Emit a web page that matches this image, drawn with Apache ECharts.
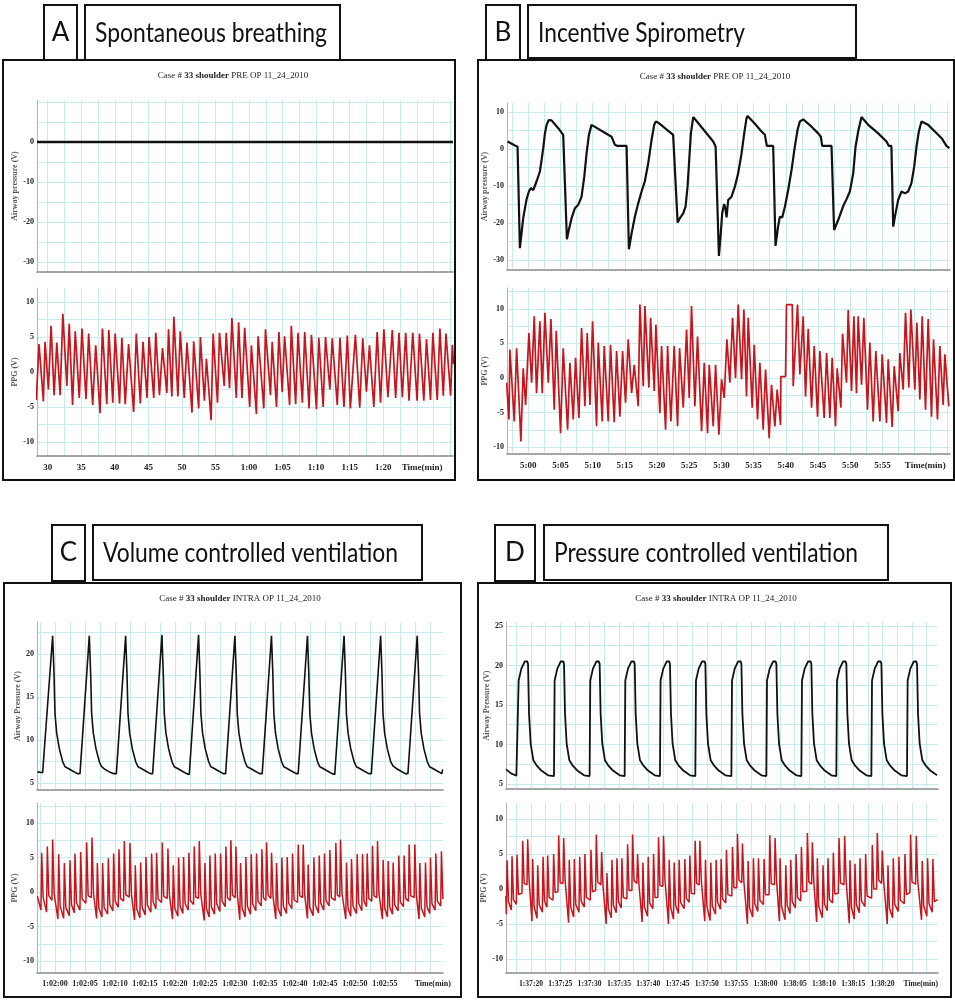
<!DOCTYPE html>
<html><head><meta charset="utf-8">
<script src="https://cdn.jsdelivr.net/npm/echarts@6/dist/echarts.min.js"></script>
<style>html,body{margin:0;padding:0;background:#fff}#c{width:955px;height:1000px}</style>
</head><body><div id="c"></div>
<script>
// ---------------- DATA ----------------
// Panel A: spontaneous breathing (time in s)
const airA = [[28.4,0],[90.4,0]];
const ppgA = [[28.3,-4.0],[28.7,4.0],[29.35,-4.2],[29.6,4.3],[30.1,-2.5],[30.5,6.6],[30.95,-3.3],[31.35,4.2],[31.85,-3.3],[32.25,8.3],
[32.85,-2.0],[33.2,6.9],[33.7,-4.7],[34.1,5.8],[34.7,-3.7],[35.1,6.2],[35.7,-3.9],[36.1,5.5],[36.7,-4.7],[37.15,3.8],
[37.8,-5.9],[38.15,6.2],[38.8,-4.6],[39.1,6.0],[39.7,-4.4],[40.05,5.5],[40.7,-4.5],[41.05,4.9],[41.55,-4.6],[42.05,4.0],
[42.8,-5.7],[43.2,5.5],[43.8,-4.5],[44.2,4.3],[44.8,-3.7],[45.1,5.0],[45.8,-3.7],[46.1,5.6],[46.65,-3.3],[47.1,3.4],
[47.75,-3.0],[48.0,6.1],[48.5,-3.5],[48.8,7.9],[49.4,-3.5],[49.75,5.8],[50.35,-3.7],[50.75,4.2],[51.5,-5.8],[51.75,4.4],
[52.5,-5.2],[52.75,5.0],[53.35,-4.1],[53.65,1.9],[54.35,-6.9],[54.65,5.5],[55.3,-4.4],[55.6,5.6],[56.3,-2.0],[56.6,5.6],
[57.1,-2.3],[57.45,7.7],[58.1,-3.7],[58.45,7.1],[58.95,-3.7],[59.35,6.3],[60.1,-5.0],[60.35,3.8],[61.1,-6.0],[61.35,5.1],
[62.2,-5.2],[62.45,6.1],[63.2,-3.3],[63.45,4.3],[64.1,-5.0],[64.45,5.7],[64.95,-2.9],[65.3,5.1],[66.05,-4.7],[66.3,6.6],
[66.95,-4.6],[67.3,5.6],[67.95,-4.4],[68.3,5.7],[68.95,-5.2],[69.3,5.3],[70.05,-5.3],[70.4,4.9],[71.05,-5.0],[71.4,5.0],
[72.05,-2.5],[72.4,4.8],[73.15,-4.7],[73.55,4.9],[74.15,-5.0],[74.65,5.2],[75.1,-5.2],[75.85,5.3],[76.5,-5.1],[76.95,4.8],
[77.5,-2.8],[77.95,3.8],[78.6,-5.0],[79.1,5.7],[79.6,-4.4],[80.1,6.1],[80.7,-3.6],[81.35,6.0],[81.85,-3.7],[82.35,5.6],
[82.85,-3.6],[83.35,5.6],[83.85,-4.1],[84.4,5.6],[85.05,-4.1],[85.4,5.5],[86.05,-4.1],[86.45,4.7],[87.05,-4.0],[87.4,5.6],
[88.05,-4.0],[88.45,6.2],[88.95,-3.4],[89.35,5.5],[90.05,-3.4],[90.3,3.9],[90.5,1.1]];

// Panel B: incentive spirometry (time in s)
const airB = [[296.8,2.0],[297.93,0.9],[298.19,0.6],[298.34,0.6],[298.7,-26.8],[299.22,-18.7],[299.74,-13.6],[300.1,-11.5],[300.41,-10.6],[300.78,-11.1],[301.29,-8.8],[301.81,-6.1],[302.07,-3.0],[302.33,0.2],[302.59,4.2],[302.85,6.5],[303.2,7.8],[303.62,7.7],[304.66,5.6],[305.43,3.8],[305.59,3.8],
[306.0,-24.4],[306.3,-21.9],[306.73,-18.7],[307.25,-16.0],[307.76,-15.1],[308.28,-12.9],[308.7,-7.5],[309.06,-1.2],[309.42,3.8],[309.83,6.5],[310.1,6.9],[312.94,3.3],[313.46,1.1],[313.87,0.8],[315.27,0.8],
[315.63,-27.1],[316.05,-22.8],[316.56,-18.3],[317.08,-14.7],[317.6,-11.5],[318.1,-8.8],[318.63,-3.9],[319.15,2.4],[319.56,6.5],[319.82,7.4],[320.19,7.1],[322.5,3.8],[322.77,3.8],
[323.2,-19.9],[323.55,-18.7],[324.07,-17.4],[324.43,-15.6],[324.74,-10.2],[325.0,-3.0],[325.26,4.2],[325.62,8.6],[328.73,2.0],[329.1,0.6],
[329.61,-28.9],[329.9,-22.8],[330.12,-17.4],[330.43,-14.9],[330.64,-16.3],[330.8,-18.5],[331.05,-13.8],[331.57,-12.9],[332.09,-10.2],[332.6,-6.6],[333.13,-1.2],[333.54,4.2],[333.9,8.3],[334.06,8.9],[335.2,6.8],[336.23,4.7],[336.75,3.8],[337.06,0.8],[338.04,0.8],
[338.4,-26.2],[338.8,-21.0],[339.08,-18.3],[339.44,-18.5],[339.86,-15.6],[340.37,-11.1],[340.89,-5.7],[341.4,0.6],[341.82,5.1],[342.18,7.4],[342.7,8.0],[344.0,6.0],[345.03,4.2],[345.44,3.3],[345.65,0.8],[347.1,0.8],
[347.5,-21.9],[348.14,-19.2],[348.9,-15.5],[349.4,-13.7],[349.95,-11.5],[350.47,-6.6],[350.83,0.6],[351.24,4.7],[351.76,8.6],[352.8,6.5],[354.35,4.2],[355.64,2.0],[356.0,0.8],[356.4,0.8],
[356.68,-21.0],[357.04,-17.4],[357.45,-13.8],[357.97,-11.5],[358.5,-12.0],[359.0,-11.5],[359.5,-9.3],[359.94,-4.8],[360.3,0.6],[360.66,4.7],[361.07,7.4],[362.1,6.5],[363.15,4.7],[364.2,2.9],[364.95,0.8],[365.4,0.2]];
const ppgB = [[296.64,-0.7],[297.0,-6.0],[297.15,4.1],[297.83,-6.3],[298.19,4.3],[298.86,-9.2],[299.22,1.4],[299.59,-3.9],[300.1,6.5],[300.52,-0.7],
[300.93,8.9],[301.29,-2.2],[301.81,8.2],[302.17,-2.2],[302.59,9.4],[303.11,-0.7],[303.52,8.5],[304.04,-4.6],[304.35,6.8],[305.02,-8.0],
[305.43,4.3],[306.11,-7.5],[306.47,2.2],[306.99,-6.0],[307.35,2.9],[307.87,-5.8],[308.28,7.2],[308.8,-4.1],[309.16,6.5],[309.58,-3.9],
[309.99,8.2],[310.61,-7.0],[310.87,5.1],[311.49,-6.3],[311.8,4.6],[312.42,-6.3],[312.78,4.8],[313.35,-6.4],[313.72,3.9],[314.23,-5.6],
[314.65,3.9],[315.11,-3.6],[315.53,5.6],[316.05,-2.2],[316.46,1.9],[317.08,-4.1],[317.34,10.6],[317.86,-1.2],[318.12,10.4],[318.74,-1.4],
[319.0,8.7],[319.57,-1.9],[319.82,7.7],[320.44,-5.1],[320.7,4.6],[321.33,-7.5],[321.64,4.6],[322.15,-6.3],[322.67,4.6],[323.19,-7.0],
[323.5,4.3],[324.07,-4.3],[324.59,7.0],[325.0,-2.9],[325.36,10.4],[325.88,-4.1],[326.29,6.0],[326.92,-7.7],[327.33,2.2],[327.85,-8.0],
[328.11,1.9],[328.73,-7.0],[329.09,1.9],[329.61,-8.2],[330.02,-0.2],[330.43,-2.9],[330.85,5.6],[331.31,-0.7],[331.73,8.7],[332.19,0.0],
[332.61,10.6],[333.13,-0.2],[333.49,9.9],[333.9,-2.7],[334.16,8.7],[334.78,-4.3],[335.09,4.8],[335.61,-6.0],[335.97,2.2],[336.49,-7.5],
[336.85,1.2],[337.42,-8.7],[337.78,-1.0],[338.3,-7.0],[338.66,-1.7],[339.18,-6.8],[339.23,0.2],[339.96,0.2],[340.11,10.6],[341.0,10.6],
[341.15,-1.2],[341.82,10.6],[342.18,0.5],[342.7,8.9],[343.06,-2.7],[343.48,7.1],[344.0,-4.3],[344.41,4.6],[344.93,-5.6],[345.29,3.9],
[345.96,-5.8],[346.33,3.6],[346.84,-5.8],[347.2,2.9],[347.72,-7.0],[347.98,1.4],[348.55,-4.3],[348.81,6.4],[349.43,-0.7],[349.69,9.8],
[350.21,-1.9],[350.57,8.9],[350.98,-2.2],[351.24,8.9],[351.76,-1.0],[352.12,8.7],[352.69,-4.6],[353.05,5.1],[353.57,-6.3],[353.98,3.9],
[354.61,-6.3],[354.97,3.4],[355.64,-6.5],[355.9,2.7],[356.52,-7.1],[356.83,1.7],[357.45,-4.8],[357.71,3.6],[358.23,-1.7],[358.59,9.4],
[359.11,-1.4],[359.42,9.9],[360.04,-1.7],[360.35,8.0],[360.82,-3.1],[361.18,8.9],[361.7,-4.6],[362.11,8.5],[362.63,-5.6],[362.94,5.6],
[363.56,-6.0],[363.92,4.6],[364.44,-3.9],[364.7,3.4],[365.32,-4.1]];

// Panel C: volume controlled ventilation (time in s after 1:02:00)
const C_T0 = 3720;
const airC = [[-2.94,6.3],[-2.06,6.2],
[-1.94,6.2],[-0.39,22.1],[-0.17,17.8],[0.0,13.1],[0.28,10.8],[0.72,9.0],[1.28,7.5],[1.67,6.9],[2.22,6.7],[2.94,6.4],[3.72,6.1],
[4.17,6.1],[5.72,22.1],[5.94,17.8],[6.11,13.1],[6.39,10.8],[6.83,9.0],[7.39,7.5],[7.78,6.9],[8.33,6.6],[9.05,6.3],[9.83,6.1],
[10.23,6.1],[11.78,22.1],[12.0,17.8],[12.17,13.1],[12.45,10.8],[12.89,9.0],[13.45,7.5],[13.84,6.9],[14.39,6.7],[15.11,6.4],[15.89,6.1],
[16.28,6.1],[17.83,22.2],[18.05,17.8],[18.22,13.1],[18.5,10.8],[18.94,9.0],[19.5,7.5],[19.89,6.9],[20.44,6.7],[21.16,6.4],[21.94,6.1],
[22.39,6.0],[23.94,22.2],[24.16,17.8],[24.33,13.1],[24.61,10.8],[25.05,9.0],[25.61,7.5],[26.0,6.9],[26.55,6.7],[27.27,6.4],[28.05,6.1],
[28.45,6.1],[30.0,22.1],[30.22,17.8],[30.39,13.1],[30.67,10.8],[31.11,9.0],[31.67,7.5],[32.06,6.9],[32.61,6.7],[33.33,6.4],[34.11,6.1],
[34.55,6.1],[36.1,22.1],[36.32,17.8],[36.49,13.1],[36.77,10.8],[37.21,9.0],[37.77,7.5],[38.16,6.9],[38.71,6.7],[39.43,6.4],[40.21,6.1],
[40.55,6.1],[42.1,22.1],[42.32,17.8],[42.49,13.1],[42.77,10.8],[43.21,9.0],[43.77,7.5],[44.16,6.9],[44.71,6.7],[45.43,6.4],[46.21,6.1],
[46.65,6.0],[48.2,22.1],[48.42,17.8],[48.59,13.1],[48.87,10.8],[49.31,9.0],[49.87,7.5],[50.26,6.9],[50.81,6.7],[51.53,6.4],[52.31,6.1],
[52.75,6.1],[54.3,22.1],[54.52,17.8],[54.69,13.1],[54.97,10.8],[55.41,9.0],[55.97,7.5],[56.36,7.0],[56.91,6.7],[57.63,6.4],[58.41,6.1],
[58.85,6.1],[60.4,22.1],[60.62,17.8],[60.79,13.1],[61.07,10.8],[61.51,9.0],[62.07,7.5],[62.46,6.9],[63.01,6.7],[63.73,6.4],[64.51,6.1],
[64.65,6.6]];
const ppgC = [[-2.94,-0.6],
[-2.34,-2.6],[-2.22,5.7],[-1.97,-0.8],[-1.40,-2.9],[-1.28,6.6],[-1.03,-0.5],[-0.51,-1.2],[-0.39,7.6],[-0.14,-0.2],
[0.49,-3.9],[0.61,5.5],[0.86,-2.0],[1.44,-3.8],[1.56,4.2],[1.81,-2.2],[2.38,-3.4],[2.50,4.6],[2.75,-1.8],
[3.21,-3.0],[3.33,5.6],[3.58,-1.5],[4.16,-2.6],[4.28,5.8],[4.53,-1.0],[5.16,-1.6],[5.28,7.2],[5.53,-0.5],
[6.05,-0.8],[6.17,7.9],[6.42,-0.2],[6.94,-3.8],[7.06,4.2],[7.31,-2.3],[7.82,-3.6],[7.94,4.2],[8.19,-2.2],
[8.77,-3.2],[8.89,4.9],[9.14,-1.8],[9.66,-2.7],[9.78,5.6],[10.03,-1.3],[10.55,-2.2],[10.67,6.2],[10.92,-0.9],
[11.44,-1.3],[11.56,7.4],[11.81,-0.4],[12.38,-0.7],[12.50,7.1],[12.75,-0.3],[13.27,-4.0],[13.39,3.9],[13.64,-2.4],
[14.16,-3.7],[14.28,4.3],[14.53,-2.2],[15.05,-3.3],[15.17,5.1],[15.42,-1.9],[15.99,-2.9],[16.11,5.6],[16.36,-1.4],
[16.82,-2.4],[16.94,5.7],[17.19,-1.0],[17.77,-1.5],[17.89,7.2],[18.14,-0.6],[18.71,-0.9],[18.83,6.3],[19.08,-0.4],
[19.60,-3.9],[19.72,3.9],[19.97,-2.3],[20.49,-3.5],[20.61,5.0],[20.86,-2.0],[21.32,-3.1],[21.44,5.1],[21.69,-1.6],
[22.21,-2.6],[22.33,5.7],[22.58,-1.2],[23.10,-1.8],[23.22,6.6],[23.47,-0.7],[23.94,-0.9],[24.06,7.4],[24.31,-0.3],
[24.88,-4.1],[25.00,4.2],[25.25,-2.4],[25.71,-3.6],[25.83,5.3],[26.08,-2.1],[26.60,-3.2],[26.72,5.6],[26.97,-1.7],
[27.49,-2.8],[27.61,5.6],[27.86,-1.3],[28.38,-2.1],[28.50,6.6],[28.75,-0.8],[29.21,-1.2],[29.33,7.5],[29.58,-0.4],
[30.05,-0.8],[30.17,6.6],[30.42,-0.5],[30.82,-4.0],[30.94,4.2],[31.19,-2.3],[31.71,-3.6],[31.83,5.1],[32.08,-2.0],
[32.60,-3.2],[32.72,5.5],[32.97,-1.7],[33.49,-2.7],[33.61,5.6],[33.86,-1.3],[34.38,-2.0],[34.50,6.2],[34.75,-0.8],
[35.16,-1.2],[35.28,7.2],[35.53,-0.4],[35.99,-0.9],[36.11,5.7],[36.36,-0.6],[36.82,-3.9],[36.94,4.2],[37.19,-2.3],
[37.71,-3.5],[37.83,5.0],[38.08,-2.0],[38.60,-3.1],[38.72,5.1],[38.97,-1.6],[39.49,-2.4],[39.61,5.6],[39.86,-1.1],
[40.44,-1.5],[40.56,6.9],[40.81,-0.5],[41.27,-0.8],[41.39,6.9],[41.64,-0.4],[42.10,-3.8],[42.22,4.0],[42.47,-2.2],
[43.05,-3.4],[43.17,5.0],[43.42,-1.9],[43.94,-3.0],[44.06,5.3],[44.31,-1.6],[44.82,-2.6],[44.94,5.6],[45.19,-1.2],
[45.71,-2.0],[45.83,6.1],[46.08,-0.8],[46.71,-1.2],[46.83,7.1],[47.08,-0.4],[47.49,-0.7],[47.61,7.6],[47.86,-0.2],
[48.49,-3.9],[48.61,4.3],[48.86,-2.3],[49.32,-3.5],[49.44,4.8],[49.69,-2.0],[50.27,-3.1],[50.39,5.5],[50.64,-1.6],
[51.16,-2.7],[51.28,5.5],[51.53,-1.3],[51.94,-2.1],[52.06,5.6],[52.31,-0.9],[52.82,-1.3],[52.94,6.7],[53.19,-0.5],
[53.66,-0.8],[53.78,7.4],[54.03,-0.3],[54.60,-3.9],[54.72,4.7],[54.97,-2.3],[55.44,-3.6],[55.56,4.5],[55.81,-2.1],
[56.27,-3.2],[56.39,4.3],[56.64,-1.8],[57.21,-2.7],[57.33,5.3],[57.58,-1.4],[58.10,-2.1],[58.22,5.3],[58.47,-0.9],
[58.94,-1.3],[59.06,6.9],[59.31,-0.5],[59.88,-0.8],[60.00,6.9],[60.25,-0.4],[60.71,-3.9],[60.83,4.2],[61.08,-2.3],
[61.66,-3.6],[61.78,4.3],[62.03,-2.1],[62.49,-3.1],[62.61,5.0],[62.86,-1.7],[63.38,-2.6],[63.50,5.6],[63.75,-1.3],
[64.32,-2.0],[64.44,5.9],[64.69,-1.0]];

// Panel D: pressure controlled ventilation (time in s after 1:37:20)
const D_T0 = 5840;
const airD = [[-4.26,6.85],[-3.41,6.35],[-2.5,6.05],
[-2.22,6.0],[-2.11,18.1],[-1.65,19.6],[-1.08,20.5],[-0.63,20.5],[-0.51,20.2],[-0.34,13.9],[-0.06,10.1],[0.40,8.0],[0.91,7.4],[1.76,6.7],[2.90,6.1],
[3.92,6.0],[4.03,18.1],[4.49,19.6],[5.06,20.5],[5.51,20.5],[5.63,20.2],[5.80,13.9],[6.08,10.1],[6.54,8.0],[7.05,7.4],[7.90,6.7],[9.04,6.1],
[10.0,6.0],[10.11,18.1],[10.57,19.6],[11.14,20.5],[11.59,20.5],[11.71,20.2],[11.88,13.9],[12.16,10.1],[12.62,8.0],[13.13,7.4],[13.98,6.7],[15.12,6.1],
[15.98,6.0],[16.09,18.1],[16.55,19.6],[17.12,20.5],[17.57,20.5],[17.69,20.2],[17.86,13.9],[18.14,10.1],[18.60,8.0],[19.11,7.4],[19.96,6.7],[21.10,6.1],
[22.0,6.0],[22.11,18.1],[22.57,19.6],[23.14,20.5],[23.59,20.5],[23.71,20.2],[23.88,13.9],[24.16,10.1],[24.62,8.0],[25.13,7.4],[25.98,6.7],[27.12,6.1],
[28.04,6.0],[28.15,18.1],[28.61,19.6],[29.18,20.5],[29.63,20.5],[29.75,20.2],[29.92,13.9],[30.20,10.1],[30.66,8.0],[31.17,7.4],[32.02,6.7],[33.16,6.1],
[34.19,6.0],[34.30,18.1],[34.76,19.6],[35.33,20.5],[35.78,20.5],[35.90,20.2],[36.07,13.9],[36.35,10.1],[36.81,8.0],[37.32,7.4],[38.17,6.7],[39.31,6.1],
[40.16,6.0],[40.27,18.1],[40.73,19.6],[41.30,20.5],[41.75,20.5],[41.87,20.2],[42.04,13.9],[42.32,10.1],[42.78,8.0],[43.29,7.4],[44.14,6.7],[45.28,6.1],
[46.13,6.0],[46.24,18.1],[46.70,19.6],[47.27,20.5],[47.72,20.5],[47.84,20.2],[48.01,13.9],[48.29,10.1],[48.75,8.0],[49.26,7.4],[50.11,6.7],[51.25,6.1],
[52.10,6.0],[52.21,18.1],[52.67,19.6],[53.24,20.5],[53.69,20.5],[53.81,20.2],[53.98,13.9],[54.26,10.1],[54.72,8.0],[55.23,7.4],[56.08,6.7],[57.22,6.1],
[58.08,6.0],[58.19,18.1],[58.65,19.6],[59.22,20.5],[59.67,20.5],[59.79,20.2],[59.96,13.9],[60.24,10.1],[60.70,8.0],[61.21,7.4],[62.06,6.7],[63.20,6.1],
[64.16,6.0],[64.27,18.1],[64.73,19.6],[65.30,20.5],[65.75,20.5],[65.87,20.2],[66.04,13.9],[66.32,10.1],[66.78,8.0],[67.29,7.4],[68.14,6.7],[69.28,6.1]];
const ppgD = [[-4.30,-1.0],
[-4.21,-3.6],[-4.09,4.1],[-3.84,-1.8],[-3.36,-3.0],[-3.24,4.7],[-2.99,-1.5],[-2.51,-2.2],[-2.39,4.9],[-2.14,-0.8],
[-1.54,-0.6],[-1.42,6.9],[-1.17,0.8],[-0.69,0.6],[-0.57,7.1],[-0.32,1.2],[0.16,-4.6],[0.28,4.3],[0.53,-2.5],
[1.02,-4.2],[1.14,3.4],[1.39,-2.2],[1.93,-3.3],[2.05,4.6],[2.30,-1.7],[2.72,-2.6],[2.84,4.8],[3.09,-1.2],
[3.74,-1.6],[3.86,5.0],[4.11,-0.5],[4.60,-0.4],[4.72,7.7],[4.97,0.9],[5.45,0.8],[5.57,7.3],[5.82,1.2],
[6.41,-4.8],[6.53,4.2],[6.78,-2.6],[7.27,-4.0],[7.39,4.3],[7.64,-2.2],[8.18,-3.3],[8.30,4.6],[8.55,-1.7],
[9.08,-2.6],[9.20,5.0],[9.45,-1.2],[10.11,-1.6],[10.23,5.6],[10.48,-0.4],[11.02,-0.2],[11.14,7.8],[11.39,1.0],
[11.93,0.6],[12.05,5.3],[12.30,0.3],[12.83,-5.0],[12.95,2.3],[13.20,-2.8],[13.69,-4.1],[13.81,4.2],[14.06,-2.3],
[14.54,-3.4],[14.66,4.4],[14.91,-1.8],[15.39,-2.7],[15.51,4.4],[15.76,-1.2],[16.36,-1.4],[16.48,6.4],[16.73,-0.2],
[17.21,-0.2],[17.33,7.8],[17.58,1.2],[18.06,0.8],[18.18,5.0],[18.43,0.5],[18.97,-4.7],[19.09,3.8],[19.34,-2.5],
[19.88,-3.9],[20.00,4.6],[20.25,-2.0],[20.79,-2.8],[20.91,5.0],[21.16,-1.2],[21.64,-1.2],[21.76,7.4],[22.01,0.5],
[22.49,0.4],[22.61,7.6],[22.86,1.3],[23.46,-5.0],[23.58,4.2],[23.83,-2.6],[24.31,-4.3],[24.43,3.8],[24.68,-2.3],
[25.16,-3.5],[25.28,4.2],[25.53,-1.9],[26.13,-2.8],[26.25,4.3],[26.50,-1.3],[26.98,-1.9],[27.10,4.8],[27.35,-0.6],
[27.89,-0.7],[28.01,6.9],[28.26,0.8],[28.69,0.6],[28.81,6.9],[29.06,1.2],[29.65,-4.6],[29.77,4.2],[30.02,-2.5],
[30.56,-4.5],[30.68,3.8],[30.93,-2.4],[31.47,-3.6],[31.59,4.2],[31.84,-1.9],[32.32,-2.9],[32.44,4.3],[32.69,-1.4],
[33.23,-2.0],[33.35,5.6],[33.60,-0.8],[34.26,-1.0],[34.38,6.0],[34.63,0.2],[35.11,0.2],[35.23,7.9],[35.48,1.3],
[35.96,0.9],[36.08,6.5],[36.33,1.0],[36.93,-5.0],[37.05,4.0],[37.30,-2.7],[37.83,-4.0],[37.95,4.4],[38.20,-2.1],
[38.69,-3.2],[38.81,4.4],[39.06,-1.6],[39.65,-2.2],[39.77,4.3],[40.02,-0.8],[40.62,-0.8],[40.74,7.7],[40.99,0.8],
[41.53,0.6],[41.65,7.3],[41.90,1.2],[42.38,-4.6],[42.50,4.4],[42.75,-2.5],[43.35,-4.4],[43.47,3.4],[43.72,-2.3],
[44.20,-3.5],[44.32,4.2],[44.57,-1.8],[45.11,-2.7],[45.23,5.0],[45.48,-1.2],[46.02,-1.7],[46.14,6.0],[46.39,-0.4],
[47.04,-0.3],[47.16,8.0],[47.41,1.0],[47.89,0.7],[48.01,6.7],[48.26,1.1],[48.74,-4.7],[48.86,4.4],[49.11,-2.5],
[49.71,-4.1],[49.83,3.4],[50.08,-2.1],[50.56,-3.1],[50.68,4.4],[50.93,-1.5],[51.47,-2.0],[51.59,5.2],[51.84,-0.7],
[52.44,-0.6],[52.56,7.3],[52.81,0.9],[53.40,0.6],[53.52,7.6],[53.77,1.2],[54.31,-4.9],[54.43,4.1],[54.68,-2.6],
[55.16,-4.3],[55.28,3.6],[55.53,-2.2],[56.02,-3.4],[56.14,4.4],[56.39,-1.7],[56.98,-2.5],[57.10,5.0],[57.35,-1.0],
[58.12,-1.3],[58.24,6.3],[58.49,0.0],[58.97,0.0],[59.09,8.0],[59.34,1.3],[59.82,0.8],[59.94,5.5],[60.19,1.0],
[60.79,-5.0],[60.91,3.4],[61.16,-2.7],[61.70,-4.1],[61.82,4.4],[62.07,-2.2],[62.66,-3.2],[62.78,4.6],[63.03,-1.6],
[63.69,-2.1],[63.81,5.0],[64.06,-0.8],[64.65,-0.5],[64.77,7.8],[65.02,1.0],[65.62,0.7],[65.74,7.6],[65.99,1.2],
[66.64,-4.4],[66.76,4.0],[67.01,-2.4],[67.55,-3.9],[67.67,4.4],[67.92,-2.1],[68.46,-3.3],[68.58,4.3],[68.83,-1.8],
[69.40,-1.5]];

// Tick label values
const ticksA_x = [30,35,40,45,50,55,60,65,70,75,80];
const ticksB_x = [300,305,310,315,320,325,330,335,340,345,350,355];
const ticksC_x = [3720,3725,3730,3735,3740,3745,3750,3755,3760,3765,3770,3775];
const ticksD_x = [5840,5845,5850,5855,5860,5865,5870,5875,5880,5885,5890,5895,5900];
const timeLabelPos = {A:85.8, B:361.65, C:3783, D:5906.5};
const ticksPressAB = [-30,-20,-10,0,10];
const ticksPPG = [-10,-5,0,5,10];
const ticksPressCD = [5,10,15,20,25];

// ---------------- CHART ----------------
const SERIF = '"Liberation Serif","Times New Roman",serif';
const GRIDC = '#c8eced';
function steps(a,b,s){const r=[];for(let v=a;v<=b+1e-9;v+=s)r.push(+v.toFixed(3));return r;}
function pad(n){return (n<10?'0':'')+n;}
function fmtMS(v){const m=Math.floor(v/60),s=Math.round(v-m*60);return m+':'+pad(s);}
function fmtHMS(v){const h=Math.floor(v/3600),m=Math.floor((v-h*3600)/60),s=Math.round(v-h*3600-m*60);return h+':'+pad(m)+':'+pad(s);}

const grids = [
 {left:37, top:100, width:416, height:172},
 {left:37, top:288, width:416, height:168},
 {left:507, top:103, width:443, height:167},
 {left:507, top:288, width:443, height:166},
 {left:37, top:622, width:406, height:168},
 {left:37, top:803, width:406, height:170},
 {left:506, top:622, width:432, height:167},
 {left:506, top:803, width:432, height:170}
].map(g=>Object.assign({outerBoundsMode:'none', containLabel:false}, g));

function mkX(i,min,max,split,labels,fmt,fs){
  return {type:'value', gridIndex:i, min, max,
    axisLine:{show:true,onZero:false,lineStyle:{color:'#8a8a8a',width:1.6}},
    axisTick:{show:false,customValues:split},
    splitLine:{show:true,lineStyle:{color:GRIDC,width:1}},
    axisLabel: labels ? {show:true,customValues:labels,formatter:fmt,fontFamily:SERIF,fontWeight:'bold',fontSize:fs||9,color:'#222',margin:7}
                      : {show:false}};
}
function mkY(i,min,max,split,labels,name){
  return {type:'value', gridIndex:i, min, max, name, nameLocation:'middle', nameGap:6, nameRotate:90,
    nameTextStyle:{fontFamily:SERIF,fontWeight:'bold',fontSize:8,color:'#555'},
    axisLine:{show:true,onZero:false,lineStyle:{color:'#b5b5b5',width:1}},
    axisTick:{show:false,customValues:split},
    splitLine:{show:true,lineStyle:{color:GRIDC,width:1}},
    axisLabel:{customValues:labels,fontFamily:SERIF,fontWeight:'bold',fontSize:8,color:'#222',margin:3}};
}
const fA = v => v===timeLabelPos.A ? 'Time(min)' : (v<60 ? String(v) : fmtMS(v));
const fB = v => v===timeLabelPos.B ? 'Time(min)' : fmtMS(v);
const fC = v => v===timeLabelPos.C ? 'Time(min)' : fmtHMS(v);
const fD = v => v===timeLabelPos.D ? 'Time(min)' : fmtHMS(v);

const xA=[28.4,90.4], xB=[296.7,365.5], xC=[3717.0,3784.7], xD=[5835.73,5909.45];
const xAxis = [
 mkX(0,xA[0],xA[1],steps(30,90,2.5),null),
 mkX(1,xA[0],xA[1],steps(30,90,2.5),ticksA_x.concat([timeLabelPos.A]),fA,9),
 mkX(2,xB[0],xB[1],steps(297.5,365,2.5),null),
 mkX(3,xB[0],xB[1],steps(297.5,365,2.5),ticksB_x.concat([timeLabelPos.B]),fB,9),
 mkX(4,xC[0],xC[1],steps(3717.5,3782.5,2.5),null),
 mkX(5,xC[0],xC[1],steps(3717.5,3782.5,2.5),ticksC_x.concat([timeLabelPos.C]),fC,8),
 mkX(6,xD[0],xD[1],steps(5837.5,5907.5,2.5),null),
 mkX(7,xD[0],xD[1],steps(5837.5,5907.5,2.5),ticksD_x.concat([timeLabelPos.D]),fD,7.6)
];
const yAxis = [
 mkY(0,-32.5,10.5,steps(-30,10,5),ticksPressAB.slice(0,4),'Airway pressure (V)'),
 mkY(1,-12,12,steps(-10,10,2.5),ticksPPG,'PPG (V)'),
 mkY(2,-32.7,12.4,steps(-30,10,5),ticksPressAB,'Airway pressure (V)'),
 mkY(3,-11,13,steps(-10,12.5,2.5),ticksPPG,'PPG (V)'),
 mkY(4,4.2,23.7,steps(5,22.5,2.5),ticksPressCD.slice(0,4),'Airway Pressure (V)'),
 mkY(5,-11.7,12.9,steps(-10,12.5,2.5),ticksPPG,'PPG (V)'),
 mkY(6,4.37,25.5,steps(5,25,2.5),ticksPressCD,'Airway Pressure (V)'),
 mkY(7,-12,12.3,steps(-10,10,2.5),ticksPPG,'PPG (V)')
];
const BLACK='#111', RED='#c8141b';
function ln(i,data,color,w){return {type:'line',xAxisIndex:i,yAxisIndex:i,data,showSymbol:false,symbol:'none',
  lineStyle:{color,width:w},itemStyle:{color},animation:false,silent:true,clip:true,z:3};}
const shiftT = (arr,t0) => arr.map(p=>[t0+p[0],p[1]]);
const series = [
 ln(0,airA,BLACK,2.4), ln(1,ppgA,RED,1.7),
 ln(2,airB,BLACK,2.2), ln(3,ppgB,RED,1.7),
 ln(4,shiftT(airC,C_T0),BLACK,1.6), ln(5,shiftT(ppgC,C_T0),RED,1.5),
 ln(6,shiftT(airD,D_T0),BLACK,1.8), ln(7,shiftT(ppgD,D_T0),RED,1.5)
];

// ---------- decorations (boxes, headings, titles) ----------
const mctx=document.createElement('canvas').getContext('2d');
function widthOf(t,font){mctx.font=font;return mctx.measureText(t).width;}
const HFONT='27px Lato';
function heading(text,x,y,target){
  const s=target/widthOf(text,HFONT);
  return {type:'text',x,y,scaleX:s,z:20,style:{text,font:HFONT,fill:'#111',align:'left',verticalAlign:'middle'}};
}
function letter(text,x,y){return {type:'text',x,y,z:20,style:{text,font:'26px Lato',fill:'#111',align:'center',verticalAlign:'middle'}};}
function box(x,y,w,h,fill){return {type:'rect',z:10,shape:{x,y,width:w,height:h},style:{fill:fill||'none',stroke:'#111',lineWidth:2}};}
function caseTitle(mid,x,y){
  return {type:'text',x,y,z:20,style:{text:'{n|Case # }{b|33 shoulder}{n| '+mid+' OP 11_24_2010}',align:'center',verticalAlign:'middle',
    rich:{n:{fontFamily:SERIF,fontSize:9,fill:'#222',color:'#222'},b:{fontFamily:SERIF,fontSize:9,fontWeight:'bold',fill:'#222',color:'#222'}}}};
}
const graphic = [
 box(3,60,452,420), box(478,60,476,420), box(4,583,457,414), box(478,583,473,414),
 box(44,5,33,55,'#fff'), box(85,5,255,55,'#fff'),
 box(486,5,34,55,'#fff'), box(528,5,328,53,'#fff'),
 box(52,525,33,56,'#fff'), box(93,525,329,55,'#fff'),
 box(495,525,40,56,'#fff'), box(544,525,344,55,'#fff'),
 letter('A',60.5,33), heading('Spontaneous breathing',95,33,232),
 letter('B',503,33), heading('Incentive Spirometry',538,33,207),
 letter('C',68.5,553), heading('Volume controlled ventilation',103,553,295),
 letter('D',515,553), heading('Pressure controlled ventilation',554,553,304),
 caseTitle('PRE',233,76), caseTitle('PRE',715,77), caseTitle('INTRA',240,599), caseTitle('INTRA',716,599)
];

const chart = echarts.init(document.getElementById('c'), null, {renderer:'canvas', width:955, height:1000});
chart.setOption({animation:false, backgroundColor:'#fff', grid:grids, xAxis, yAxis, series, graphic});
</script></body></html>
